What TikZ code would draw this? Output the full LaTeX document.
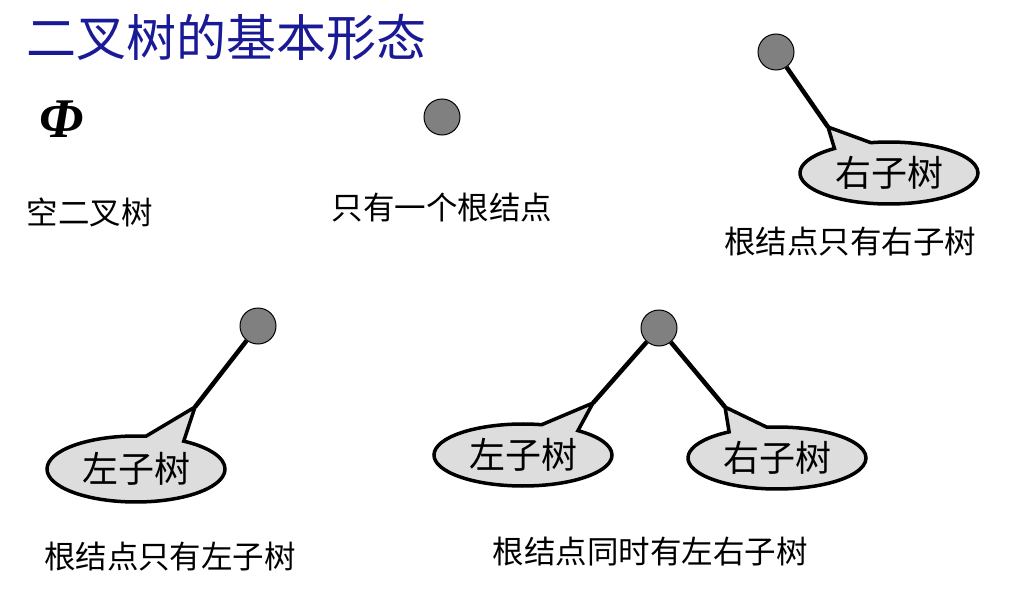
\documentclass[tikz,border=0pt]{standalone}
\usepackage{fontspec}
\newfontfamily\cjk{Noto Sans CJK SC}
\newfontfamily\phifont{Liberation Serif}
\usetikzlibrary{shapes.callouts}
\definecolor{titleblue}{RGB}{26,26,150}
\definecolor{rootgray}{RGB}{128,128,128}
\definecolor{subgray}{RGB}{221,221,221}

\begin{document}
\begin{tikzpicture}[
    x=1pt,y=-1pt,
    semithick,
    root/.style={circle,draw,fill=rootgray,minimum size=36pt,inner sep=0pt,line width=1pt},
    sub/.style={ellipse callout,draw,fill=subgray,line width=3.5pt,minimum width=178pt,minimum height=62pt,inner sep=0pt,callout pointer arc=26,font=\cjk\fontsize{36}{38}\selectfont},
    edge/.style={line width=4.5pt},
    caption/.style={font=\cjk\fontsize{31.5}{34}\selectfont},
  ]

  \useasboundingbox (0,0) rectangle (1023,610);

  \node (title) at (23,38) [anchor=west,text=titleblue,font=\cjk\fontsize{50}{53}\selectfont] {二叉树的基本形态};

  \node (phi) at (62,119) [font=\phifont\bfseries\itshape\fontsize{56}{58}\selectfont] {Φ};
  \node (cap-1) at (90,212) [caption] {空二叉树};

  \node (r-2) at (442,117) [root] {};
  \node (cap-2) at (442,208) [caption] {只有一个根结点};

  \node (r-3) at (776,52) [root] {};
  \coordinate (t-3) at (828,127);
  \node (s-3) at (889,173) [sub,callout absolute pointer={(t-3)}] {右子树\hspace{8pt}};
  \draw[edge] (r-3) -- (t-3);
  \node (cap-3) at (850,242) [caption] {根结点只有右子树};

  \node (r-4) at (258,326) [root] {};
  \coordinate (t-4) at (195,407);
  \node (s-4) at (136,469) [sub,minimum height=66pt,callout absolute pointer={(t-4)}] {左子树\hspace{8pt}};
  \draw[edge] (r-4) -- (t-4);
  \node (cap-4) at (170,557) [caption] {根结点只有左子树};

  \node (r-5) at (659,328) [root] {};
  \coordinate (t-5l) at (593,403);
  \coordinate (t-5r) at (725,407);
  \node (s-5l) at (523,455) [sub,callout absolute pointer={(t-5l)}] {左子树};
  \node (s-5r) at (777,458) [sub,callout absolute pointer={(t-5r)}] {右子树\hspace{10pt}};
  \draw[edge] (r-5) -- (t-5l);
  \draw[edge] (r-5) -- (t-5r);
  \node (cap-5) at (650,552) [caption] {根结点同时有左右子树};

\end{tikzpicture}
\end{document}
